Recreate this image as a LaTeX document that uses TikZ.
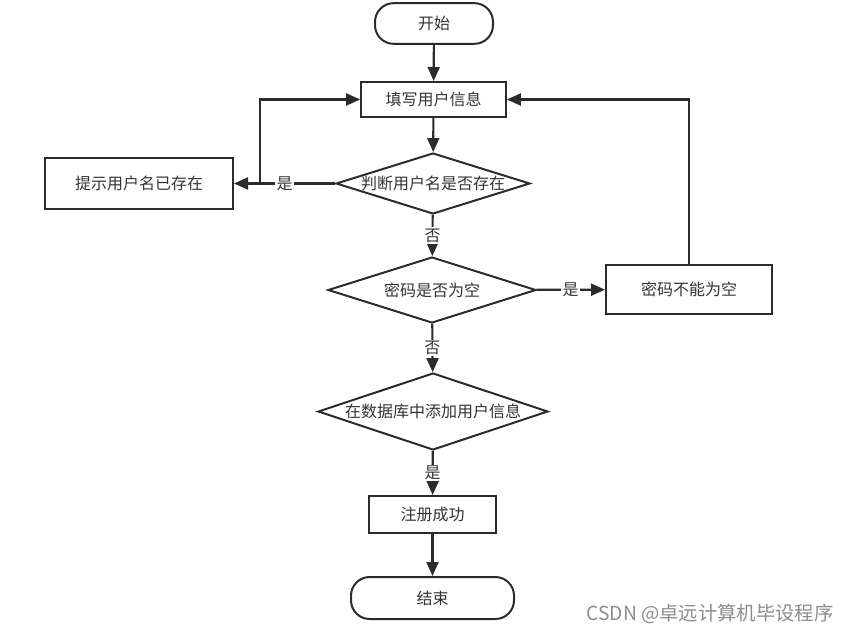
\documentclass[tikz,border=0pt]{standalone}
\usepackage{fontspec}
\setmainfont{Noto Sans CJK SC}
\usetikzlibrary{arrows.meta,shapes.geometric}
\definecolor{ink}{HTML}{2B2B2B}
\definecolor{txt}{HTML}{333333}
\definecolor{mark}{HTML}{8C8C8C}
\newcommand{\dtext}[1]{\makebox[0pt]{#1}}
\begin{document}
\begin{tikzpicture}[x=0.75pt,y=-0.75pt,
		font=\fontsize{12pt}{14pt}\selectfont, text=txt,
		box/.style={draw=ink,line width=1.5pt,rectangle,inner sep=0pt},
		term/.style={box,rounded corners=14pt},
		decision/.style={draw=ink,line width=1.5pt,diamond,inner sep=0pt},
		arr/.style={draw=ink,line width=1.6pt,-{Triangle[length=10.5pt,width=9pt]}},
		lbl/.style={fill=white,inner sep=1pt}]
		\useasboundingbox (0,0) rectangle (850,635);
		\node[term,minimum width=88.5pt,minimum height=30.5pt] (start) at (434,23.5) {开始};
		\node[box,minimum width=108.5pt,minimum height=26.25pt] (fill) at (433.5,99.5) {填写用户信息};
		\node[decision,minimum width=145.5pt,minimum height=45.75pt] (chk) at (433,183.5) {\dtext{判断用户名是否存在}};
		\node[box,minimum width=141pt,minimum height=38.25pt] (exist) at (139,183.5) {提示用户名已存在};
		\node[decision,minimum width=156pt,minimum height=49.5pt] (pwd) at (432,290) {\dtext{密码是否为空}};
		\node[box,minimum width=124.5pt,minimum height=36.75pt] (empty) at (689,289.5) {密码不能为空};
		\node[decision,minimum width=172.5pt,minimum height=57.75pt] (add) at (433,411.5) {\dtext{在数据库中添加用户信息}};
		\node[box,minimum width=95.25pt,minimum height=27.75pt] (ok) at (432.5,514.5) {注册成功};
		\node[term,minimum width=122.25pt,minimum height=31.5pt] (stop) at (432.5,598) {结束};
		\coordinate (back) at (260,183.5);
		\draw[arr] (start) -- (fill);
		\draw[arr] (fill) -- (chk);
		\draw[arr] (chk) -- node[lbl] {是} (exist);
		\draw[arr] (back) |- (fill.west);
		\draw[arr] (chk) -- node[lbl] {否} (pwd);
		\draw[arr] (pwd) -- node[lbl] {是} (empty);
		\draw[arr] (empty) |- (fill.east);
		\draw[arr] (pwd) -- node[lbl] {否} (add);
		\draw[arr] (add) -- node[lbl] {是} (ok);
		\draw[arr] (ok) -- (stop);
		\node[text=mark,font=\fontsize{14.5pt}{16pt}\selectfont] (credit) at (710,614) {CSDN @卓远计算机毕设程序};
	\end{tikzpicture}
\end{document}
